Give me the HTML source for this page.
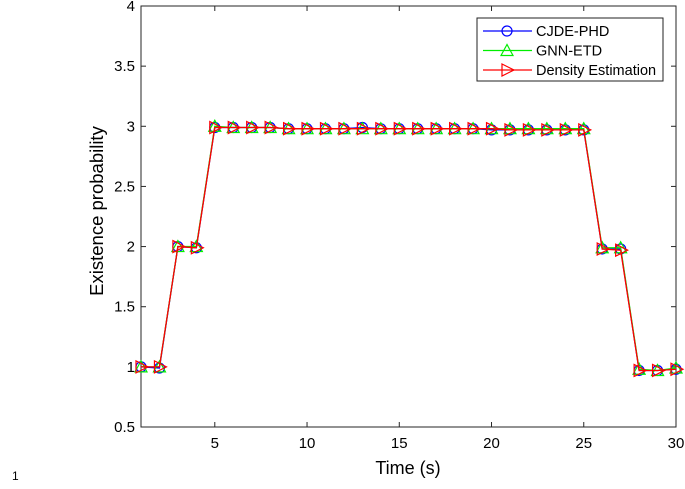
<!DOCTYPE html>
<html><head><meta charset="utf-8"><style>
body{margin:0;background:#fff;}
svg text{font-family:"Liberation Sans",Arial,sans-serif;fill:#000;}
</style></head><body>
<svg id="chart" width="685" height="484" xmlns="http://www.w3.org/2000/svg">
<rect x="0" y="0" width="685" height="484" fill="#fff"/>
<text x="12" y="480" font-size="12">1</text>
<g id="axes"></g>
<g id="series"></g>
<g id="legend">
<rect x="477" y="18" width="186" height="63" fill="#fff" stroke="#222" stroke-width="1"/>
</g>
</svg>
<script>
const times=[1,2,3,4,5,6,7,8,9,10,11,12,13,14,15,16,17,18,19,20,21,22,23,24,25,26,27,28,29,30];
const cjdeValues=[1,0.99,2,1.99,2.99,2.99,2.99,2.99,2.98,2.98,2.98,2.98,2.99,2.98,2.98,2.98,2.98,2.98,2.98,2.97,2.97,2.97,2.97,2.97,2.97,1.98,1.98,0.97,0.97,0.98];
const gnnValues=[1,1,2,2,3,2.99,2.99,2.99,2.98,2.98,2.98,2.98,2.98,2.98,2.98,2.98,2.98,2.98,2.98,2.98,2.98,2.98,2.98,2.98,2.98,1.99,1.99,0.98,0.97,0.99];
const densityValues=[1,1,2,1.99,2.99,2.99,2.99,2.99,2.98,2.98,2.98,2.98,2.98,2.98,2.98,2.98,2.98,2.98,2.98,2.98,2.97,2.97,2.97,2.97,2.97,1.98,1.97,0.97,0.97,0.98];
const xTicks=[5,10,15,20,25,30];
const yTicks=[0.5,1,1.5,2,2.5,3,3.5,4];
const yTickLabels=["0.5","1","1.5","2","2.5","3","3.5","4"];
const seriesNames=["CJDE-PHD","GNN-ETD","Density Estimation"];

const L=141,R=676,T=6,B=427,xmin=1,xmax=30,ymin=0.5,ymax=4;
const xs=v=>L+(v-xmin)/(xmax-xmin)*(R-L);
const ys=v=>B-(v-ymin)/(ymax-ymin)*(B-T);
const NS="http://www.w3.org/2000/svg";
function mk(tag,attrs,parent){const e=document.createElementNS(NS,tag);for(const k in attrs)e.setAttribute(k,attrs[k]);parent.appendChild(e);return e;}
const ax=document.getElementById('axes');
let f=mk('rect',{x:L,y:T,width:R-L,height:B-T,fill:'none',stroke:'#262626','stroke-width':1},ax);


xTicks.forEach(t=>{
 mk('line',{x1:xs(t),x2:xs(t),y1:B,y2:B-5,stroke:'#262626'},ax);
 mk('line',{x1:xs(t),x2:xs(t),y1:T,y2:T+5,stroke:'#262626'},ax);
 const tx=mk('text',{x:xs(t),y:B+21,'font-size':15,'text-anchor':'middle'},ax);tx.textContent=t;
 
 
});
yTicks.forEach((t,i)=>{
 mk('line',{x1:L,x2:L+5,y1:ys(t),y2:ys(t),stroke:'#262626'},ax);
 mk('line',{x1:R,x2:R-5,y1:ys(t),y2:ys(t),stroke:'#262626'},ax);
 const tx=mk('text',{x:L-6,y:ys(t)+5,'font-size':15,'text-anchor':'end'},ax);tx.textContent=yTickLabels[i];
 
 
});
let xl=mk('text',{x:408,y:474,'font-size':18,'text-anchor':'middle'},ax);xl.textContent='Time (s)';


let yl=mk('text',{x:103,y:211,'font-size':18.5,'text-anchor':'middle',transform:'rotate(-90 103 211)'},ax);yl.textContent='Existence probability';



function marker(kind,x,y,color,parent){
 if(kind==='o')return mk('circle',{cx:x,cy:y,r:5,fill:'none',stroke:color,'stroke-width':1.2},parent);
 if(kind==='^')return mk('polygon',{points:`${x},${y-6} ${x-6},${y+5} ${x+6},${y+5}`,fill:'none',stroke:color,'stroke-width':1.2},parent);
 return mk('polygon',{points:`${x-5},${y-6} ${x+7},${y} ${x-5},${y+6}`,fill:'none',stroke:color,'stroke-width':1.2},parent);
}
const sg=document.getElementById('series');
const defs=[[cjdeValues,'#0000ff','o','cjde-phd'],[gnnValues,'#00ee00','^','gnn-etd'],[densityValues,'#ff0000','>','density-estimation']];
defs.forEach(([vals,col,mkind,name])=>{
 const g=mk('g',{},sg);
 
 
 const p=mk('polyline',{points:vals.map((v,i)=>xs(times[i])+','+ys(v)).join(' '),fill:'none',stroke:col,'stroke-width':1.3},g);
 
 
 vals.forEach((v,i)=>{const m=marker(mkind,xs(times[i]),ys(v),col,g);
  
  });
});
const lg=document.getElementById('legend');
defs.forEach(([v,col,mkind,name],i)=>{
 const y=31+i*19.5;
 const g=mk('g',{},lg);
 
 
 mk('line',{x1:483,x2:532,y1:y,y2:y,stroke:col,'stroke-width':1.3},g);
 marker(mkind,507,y,col,g);
 const t=mk('text',{x:536,y:y+5,'font-size':14.5},g);t.textContent=seriesNames[i];
});
</script>
</body></html>
